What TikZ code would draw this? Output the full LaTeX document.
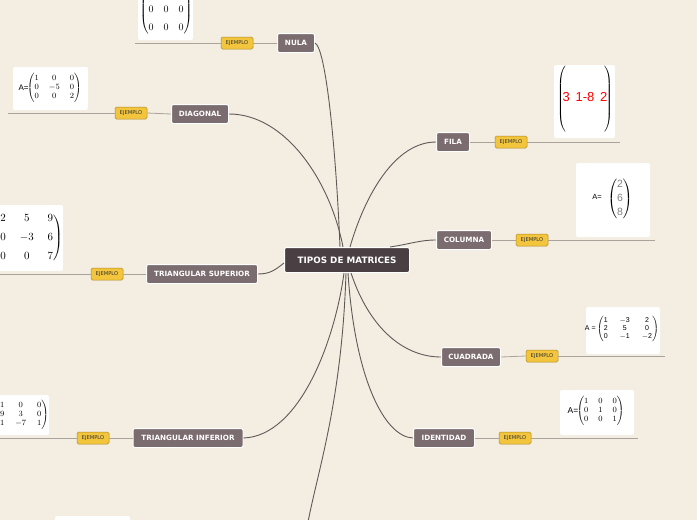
\documentclass[tikz,border=0pt]{standalone}
\usepackage{amsmath}
\usepackage{fontspec}
\newfontfamily\lab{DejaVu Sans}
\newfontfamily\lsans{Liberation Sans}
\definecolor{bg}{HTML}{F3EDE2}
\definecolor{maincol}{HTML}{4A3F42}
\definecolor{topcol}{HTML}{7B6C70}
\definecolor{excol}{HTML}{F2C53D}
\definecolor{exborder}{HTML}{B08A25}
\definecolor{linecol}{HTML}{5F5A58}
\definecolor{basecol}{HTML}{A9A39B}
\begin{document}
\begin{tikzpicture}[x=1pt,y=-1pt,
  mainbox/.style={fill=maincol,draw=white,line width=1pt,rounded corners=2pt,text=white,font=\lab\bfseries\fontsize{8.8}{10}\selectfont,minimum width=125pt,minimum height=25pt,inner sep=2pt},
  topic/.style={fill=topcol,draw=white,line width=1pt,rounded corners=2pt,text=white,font=\lab\bfseries\fontsize{7.2}{8}\selectfont,minimum height=19pt,inner sep=2pt},
  ex/.style={fill=excol,draw=exborder,line width=0.5pt,rounded corners=1.5pt,text=black!80,font=\lab\fontsize{5.2}{6}\selectfont,minimum width=32pt,minimum height=12pt,inner sep=1pt},
  conn/.style={draw=linecol,line width=0.9pt},
  base/.style={draw=basecol,line width=0.8pt},
  img/.style={fill=white,rounded corners=2pt},
  txt/.style={inner sep=0pt}]
\useasboundingbox (0,0) rectangle (697,520);
\fill[bg] (0,0) rectangle (697,520);
\clip (0,0) rectangle (697,520);

% base lines
\coordinate (nulaL) at (135,43);
\coordinate (diagL) at (8,113);
\coordinate (tsL) at (-2,274);
\coordinate (tiL) at (-2,438);
\coordinate (filaR) at (620,142);
\coordinate (colR) at (655,240);
\coordinate (cuaR) at (665,356);
\coordinate (idR) at (638,438);

% image boxes
\fill[img] (138,-5) rectangle (193,40);
\node[txt] (mnula) at (166,10) {\fontsize{10}{12}\selectfont$\begin{pmatrix}0&0&0\\[6pt]0&0&0\\[6pt]0&0&0\end{pmatrix}$};

\fill[img] (13,67) rectangle (88,110);
\node[txt] (mdiag) at (50,88) {\fontsize{8}{9}\selectfont{\lsans A=}\!$\begin{pmatrix}1&0&0\\0&-5&0\\0&0&2\end{pmatrix}$};

\fill[img] (554,65) rectangle (615,138);
\node[txt] (mfila) at (585,100) {$\left(\rule[-32pt]{0pt}{64pt}\!\!\text{\lsans\fontsize{13}{14}\selectfont\color{red}3\;\,1-8\;\,2}\!\!\right)$};

\fill[img] (576,163) rectangle (650,237);
\node[txt] (mcolA) at (597,197) {\lsans\fontsize{7.5}{8}\selectfont A=};
\node[txt] (mcol) at (620,199) {\lsans\fontsize{10.5}{14}\selectfont$\left(\begin{tabular}{@{}c@{}}\color{gray}2\\\color{gray}6\\\color{gray}8\end{tabular}\right)$};

\fill[img] (-5,205) rectangle (63,271);
\node[txt,anchor=east] (mts) at (63,238) {\fontsize{10.5}{12}\selectfont\setlength\arraycolsep{7pt}$\begin{pmatrix}2&5&9\\[7pt]0&-3&6\\[7pt]0&0&7\end{pmatrix}$};

\fill[img] (586,307) rectangle (660,354);
\node[txt] (mcua) at (622,329) {\lsans\fontsize{7}{8}\selectfont A =\,$\left(\begin{tabular}{@{}ccc@{}}1&$-$3&2\\2&5&0\\0&$-$1&$-$2\end{tabular}\right)$};

\fill[img] (560,390) rectangle (634,435);
\node[txt] (mid) at (596,411) {\fontsize{8.5}{9}\selectfont{\lsans A=}\!$\begin{pmatrix}1&0&0\\0&1&0\\0&0&1\end{pmatrix}$};

\fill[img] (-5,395) rectangle (49,435);
\node[txt,anchor=east] (mti) at (49,415) {\fontsize{8.5}{9}\selectfont\setlength\arraycolsep{5.5pt}$\begin{pmatrix}1&0&0\\9&3&0\\1&-7&1\end{pmatrix}$};

\fill[img] (55,516) rectangle (130,530);

% nodes
\node[mainbox] (c) at (347,260) {TIPOS DE MATRICES};
\node[topic,minimum width=37pt] (nula) at (296,43) {NULA};
\node[topic,minimum width=57pt] (diag) at (200,114) {DIAGONAL};
\node[topic,minimum width=111pt] (ts) at (202,274) {TRIANGULAR SUPERIOR};
\node[topic,minimum width=110pt] (ti) at (188,438) {TRIANGULAR INFERIOR};
\node[topic,minimum width=33pt] (fila) at (453,142) {FILA};
\node[topic,minimum width=55pt] (col) at (464,240) {COLUMNA};
\node[topic,minimum width=59pt] (cua) at (471,357) {CUADRADA};
\node[topic,minimum width=61pt] (ident) at (444,438) {IDENTIDAD};
\coordinate (bot) at (308,522);

\node[ex] (e1) at (237,43) {EJEMPLO};
\node[ex] (e2) at (131,113) {EJEMPLO};
\node[ex] (e3) at (107,274) {EJEMPLO};
\node[ex] (e4) at (93,438) {EJEMPLO};
\node[ex] (e5) at (511,142) {EJEMPLO};
\node[ex] (e6) at (532,240) {EJEMPLO};
\node[ex] (e7) at (542,356) {EJEMPLO};
\node[ex] (e8) at (515,438) {EJEMPLO};

% base connectors
\draw[base] (nula.west) -- (e1.east);
\draw[base] (e1.west) -- (nulaL);
\draw[base] (diag.west) -- (e2.east);
\draw[base] (e2.west) -- (diagL);
\draw[base] (ts.west) -- (e3.east);
\draw[base] (e3.west) -- (tsL);
\draw[base] (ti.west) -- (e4.east);
\draw[base] (e4.west) -- (tiL);
\draw[base] (fila.east) -- (e5.west);
\draw[base] (e5.east) -- (filaR);
\draw[base] (col.east) -- (e6.west);
\draw[base] (e6.east) -- (colR);
\draw[base] (cua.east) -- (e7.west);
\draw[base] (e7.east) -- (cuaR);
\draw[base] (ident.east) -- (e8.west);
\draw[base] (e8.east) -- (idR);

% main connectors
\draw[conn] (nula.east) .. controls (326,48) and (336,150) .. ([xshift=-7pt]c.north);
\draw[conn] (diag.east) .. controls (285,114) and (330,180) .. ([xshift=-4pt]c.north);
\draw[conn] (ts.east) .. controls (270,274) and (275,270) .. ([yshift=-3pt]c.west);
\draw[conn] (ti.east) .. controls (300,436) and (335,340) .. ([xshift=-3pt]c.south);
\draw[conn] ([xshift=3pt]c.north) .. controls (365,195) and (395,142) .. (fila.west);
\draw[conn] ([xshift=43pt]c.north) .. controls (410,244) and (420,240) .. (col.west);
\draw[conn] ([xshift=4pt]c.south) .. controls (370,330) and (405,357) .. (cua.west);
\draw[conn] ([xshift=1pt]c.south) .. controls (355,380) and (385,437) .. (ident.west);
\draw[conn] ([xshift=-1pt]c.south) .. controls (342,400) and (318,470) .. (bot);
\end{tikzpicture}
\end{document}
